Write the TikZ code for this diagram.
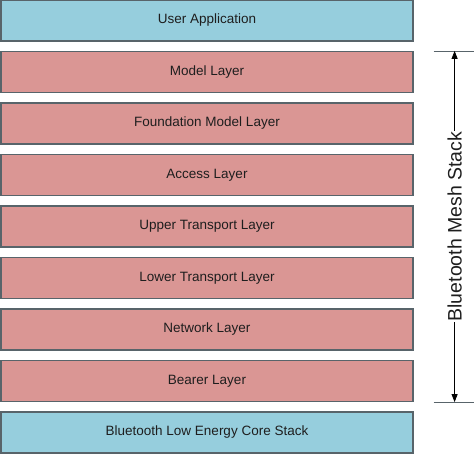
\documentclass[tikz,border=0pt]{standalone}
\usepackage{fontspec}
\setmainfont{Liberation Sans}
\usetikzlibrary{positioning,arrows.meta}

\definecolor{appblue}{RGB}{150,206,221}
\definecolor{meshpink}{RGB}{218,150,148}
\definecolor{boxline}{RGB}{88,100,106}
\definecolor{textdark}{RGB}{30,30,30}

\begin{document}
\begin{tikzpicture}[x = 1pt, y = 1pt, node distance = 9.3pt,
    layer/.style = {draw = boxline, line width = 1.2pt, minimum width = 412pt,
        minimum height = 41pt, inner sep = 0pt, text = textdark,
        font = \fontsize{13.5}{16}\selectfont},
    outer/.style = {layer, fill = appblue},
    mesh/.style = {layer, fill = meshpink}]
\useasboundingbox (0,0) rectangle (474,-453);
\node[outer] (app) at (207,-20.5) {User Application};
\node[mesh, below = of app] (model) {Model Layer};
\node[mesh, below = of model] (found) {Foundation Model Layer};
\node[mesh, below = of found] (access) {Access Layer};
\node[mesh, below = of access] (upper) {Upper Transport Layer};
\node[mesh, below = of upper] (lower) {Lower Transport Layer};
\node[mesh, below = of lower] (network) {Network Layer};
\node[mesh, below = of network] (bearer) {Bearer Layer};
\node[outer, below = of bearer] (core) {Bluetooth Low Energy Core Stack};
% ticks and arrow
\coordinate (t1) at ([xshift = 20pt]model.north east);
\coordinate (t2) at ([xshift = 61pt]model.north east);
\coordinate (b1) at ([xshift = 20pt]bearer.south east);
\coordinate (b2) at ([xshift = 61pt]bearer.south east);
\coordinate (at) at ([xshift = 41pt]model.north east);
\coordinate (ab) at ([xshift = 41pt]bearer.south east);
\draw [line width = 0.8pt, draw = boxline] (t1) -- (t2);
\draw [line width = 0.8pt, draw = boxline] (b1) -- (b2);
\draw [line width = 0.8pt, {Triangle[length = 8pt, width = 6pt]}-{Triangle[length = 8pt, width = 6pt]}]
    (at) -- (ab) node[midway, rotate = 90, fill = white, inner sep = 1pt,
    text = textdark, font = \fontsize{19.5}{22}\selectfont] (stack) {Bluetooth Mesh Stack};
\end{tikzpicture}
\end{document}
